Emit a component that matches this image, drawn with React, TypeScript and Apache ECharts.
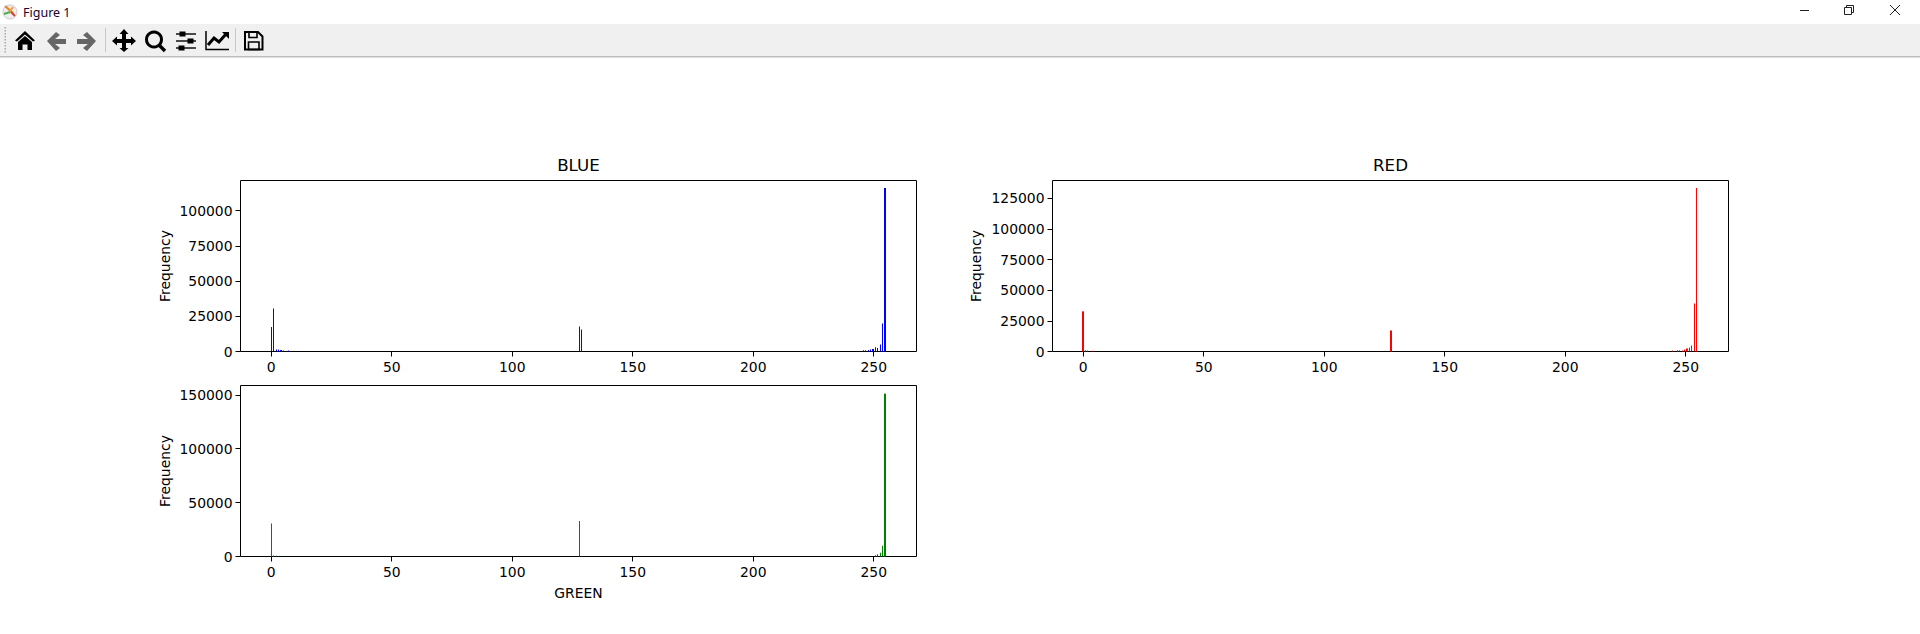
import React, { useEffect, useRef } from "react";
import * as echarts from "echarts";

// Bar positions (bin) and heights; narrow and wide bars are listed apart
const blueBins = [0.11, 0.94, 2.19, 3.02, 4.27, 5.09, 7.17, 127.92, 128.75, 245.77, 246.6, 247.84, 248.67, 250.74, 251.57, 252.81, 253.64];
const blueCounts = [17300, 30500, 1500, 1500, 800, 700, 700, 17800, 15600, 800, 800, 1000, 1500, 3000, 2500, 5000, 19900];
const blueWideBins = [3.85, 249.5, 254.47];
const blueWideCounts = [1000, 1800, 116000];

const redBins = [0.94, 1.77, 3.85, 244.5, 246.59, 247.42, 248.66, 249.49, 251.57, 252.4, 253.64, 254.47];
const redCounts = [1000, 800, 700, 800, 1000, 1000, 900, 1700, 3300, 4900, 39300, 133500];
const redWideBins = [-0.3, 127.5, 250.3];
const redWideCounts = [32800, 17200, 2500];

const greenBins = [0.11, 0.94, 2.19, 127.92, 250.74, 251.57, 252.81, 253.64];
const greenCounts = [30600, 1000, 700, 33000, 1200, 2000, 3500, 10000];
const greenWideBins = [254.47];
const greenWideCounts = [151000];

const xTicks = [0, 50, 100, 150, 200, 250];
const blueTicks = [0, 25000, 50000, 75000, 100000];
const redTicks = [0, 25000, 50000, 75000, 100000, 125000];
const greenTicks = [0, 50000, 100000, 150000];
const xLimits = [-12.75, 267.75];
const yMaxes = [121300, 139700, 158600];
const titles = ["BLUE", "RED"];
const yName = "Frequency";
const xName = "GREEN";
const windowTitle = "Figure 1";

const FONT = "DejaVu Sans";

function App() {
  const ref = useRef<HTMLDivElement>(null);
  useEffect(() => {
    const chart = echarts.init(ref.current!, undefined, { renderer: "svg" });
    const grids = [
      { left: 240.5, top: 180.5, width: 676, height: 171 },
      { left: 1052.5, top: 180.5, width: 676, height: 171 },
      { left: 240.5, top: 385.5, width: 676, height: 171 },
    ];
    const yTicks = [blueTicks, redTicks, greenTicks];
    const bins = [blueBins, redBins, greenBins];
    const counts = [blueCounts, redCounts, greenCounts];
    const wideBins = [blueWideBins, redWideBins, greenWideBins];
    const wideCounts = [blueWideCounts, redWideCounts, greenWideCounts];
    const colors = ["#0000ff", "#ff0000", "#008000"];
    const tickStyle = { show: true, length: 5, lineStyle: { color: "#000", width: 1 } };
    const labelStyle = { color: "#000", fontFamily: FONT, fontSize: 13.9 };

    const dark = "#000";
    const grey = "#666";
    const graphic: any[] = [
      { type: "rect", shape: { x: 0, y: 24, width: 1920, height: 32 }, style: { fill: "#f0f0f0" } },
      { type: "rect", shape: { x: 0, y: 56, width: 1920, height: 1.5 }, style: { fill: "#bdbdbd" } },
      // window icon
      { type: "circle", shape: { cx: 10, cy: 12, r: 7 }, style: { fill: "#eee", stroke: "#ccc", lineWidth: 1 } },
      { type: "line", shape: { x1: 5, y1: 6, x2: 13, y2: 13 }, style: { stroke: "#f08020", lineWidth: 2.2 } },
      { type: "line", shape: { x1: 13, y1: 7, x2: 9, y2: 13 }, style: { stroke: "#e8a040", lineWidth: 2 } },
      { type: "line", shape: { x1: 4, y1: 14, x2: 10, y2: 12 }, style: { stroke: "#50b050", lineWidth: 2 } },
      { type: "line", shape: { x1: 11, y1: 12, x2: 15, y2: 16 }, style: { stroke: "#d04030", lineWidth: 2 } },
      { type: "text", x: 23, y: 12, style: { text: windowTitle, fill: "#1c0030", fontFamily: "Noto Sans", fontSize: 12.5, verticalAlign: "middle" } },
      // window buttons
      { type: "line", shape: { x1: 1800, y1: 10.5, x2: 1809, y2: 10.5 }, style: { stroke: "#222", lineWidth: 1 } },
      { type: "rect", shape: { x: 1844.5, y: 7.5, width: 7, height: 7 }, style: { fill: "none", stroke: "#222", lineWidth: 1 } },
      { type: "polyline", shape: { points: [[1846.5, 7.5], [1846.5, 5.5], [1853.5, 5.5], [1853.5, 12.5], [1851.5, 12.5]] }, style: { fill: "none", stroke: "#222", lineWidth: 1 } },
      { type: "line", shape: { x1: 1890, y1: 5, x2: 1900, y2: 15 }, style: { stroke: "#222", lineWidth: 1 } },
      { type: "line", shape: { x1: 1900, y1: 5, x2: 1890, y2: 15 }, style: { stroke: "#222", lineWidth: 1 } },
      // toolbar grip and separators
      ...[27, 30, 33, 36, 39, 42, 45, 48, 51].map((y) => ({ type: "rect", shape: { x: 4.5, y, width: 1.5, height: 1.5 }, style: { fill: "#aaa" } })),
      { type: "rect", shape: { x: 105, y: 28, width: 1, height: 24 }, style: { fill: "#c8c8c8" } },
      { type: "rect", shape: { x: 235, y: 28, width: 1, height: 24 }, style: { fill: "#c8c8c8" } },
      // home
      { type: "polygon", shape: { points: [[25, 31], [35, 40.5], [33, 41.5], [25, 34.5], [17, 41.5], [15, 40.5]] }, style: { fill: dark } },
      { type: "polygon", shape: { points: [[25, 36], [32, 42], [32, 50], [27.5, 50], [27.5, 44.5], [22.5, 44.5], [22.5, 50], [18, 50], [18, 42]] }, style: { fill: dark } },
      // back
      { type: "polygon", shape: { points: [[47, 41], [56, 32], [60, 35], [55, 39], [66, 39], [66, 44], [55, 44], [60, 48], [56, 51]] }, style: { fill: grey } },
      // forward
      { type: "polygon", shape: { points: [[96, 41], [87, 32], [83, 35], [88, 39], [77, 39], [77, 44], [88, 44], [83, 48], [87, 51]] }, style: { fill: grey } },
      // move
      { type: "polygon", shape: { points: [[124, 29], [128.5, 34], [126, 34], [126, 39], [131, 39], [131, 36.5], [136, 41], [131, 45.5], [131, 43], [126, 43], [126, 48], [128.5, 48], [124, 52], [119.5, 48], [122, 48], [122, 43], [117, 43], [117, 45.5], [112, 41], [117, 36.5], [117, 39], [122, 39], [122, 34], [119.5, 34]] }, style: { fill: dark } },
      // zoom
      { type: "circle", shape: { cx: 154, cy: 39.5, r: 7.5 }, style: { fill: "none", stroke: dark, lineWidth: 3 } },
      { type: "line", shape: { x1: 159, y1: 45, x2: 165, y2: 51 }, style: { stroke: dark, lineWidth: 3.4 } },
      // sliders
      ...[[34, 182], [41, 190], [48, 181]].flatMap(([y, x]) => [
        { type: "line", shape: { x1: 176, y1: y, x2: 196, y2: y }, style: { stroke: dark, lineWidth: 1.4 } },
        { type: "rect", shape: { x: x - 2.5, y: y - 2.5, width: 6, height: 5 }, style: { fill: dark } },
      ]),
      // lines editor
      { type: "polyline", shape: { points: [[206, 31], [206, 49.5], [229, 49.5]] }, style: { fill: "none", stroke: dark, lineWidth: 1.5 } },
      { type: "polyline", shape: { points: [[208, 45], [214, 38], [219, 42], [226, 34]] }, style: { fill: "none", stroke: dark, lineWidth: 3 } },
      { type: "polygon", shape: { points: [[222, 32], [229, 32], [229, 39]] }, style: { fill: dark } },
      // save
      { type: "polygon", shape: { points: [[245, 32], [258, 32], [262.5, 36.5], [262.5, 49.5], [245, 49.5]] }, style: { fill: "none", stroke: dark, lineWidth: 2 } },
      { type: "rect", shape: { x: 249, y: 32, width: 8, height: 5.5 }, style: { fill: "none", stroke: dark, lineWidth: 1.6 } },
      { type: "rect", shape: { x: 248.5, y: 42, width: 10.5, height: 7.5 }, style: { fill: "none", stroke: dark, lineWidth: 1.6 } },
    ];

    chart.setOption({
      animation: false,
      backgroundColor: "#fff",
      textStyle: { fontFamily: FONT },
      title: titles.map((t, i) => ({
        text: t,
        left: grids[i].left + grids[i].width / 2 - 5,
        top: 151,
        textAlign: "center",
        textStyle: { color: "#000", fontFamily: FONT, fontSize: 16.7, fontWeight: "normal" },
      })),
      grid: grids.map((g) => ({ ...g, show: true, borderColor: "#000", borderWidth: 1, containLabel: false })),
      xAxis: grids.map((_, i) => ({
        type: "value",
        gridIndex: i,
        min: xLimits[0],
        max: xLimits[1],
        splitLine: { show: false },
        axisLine: { show: false, onZero: false },
        axisTick: { ...tickStyle, customValues: xTicks },
        axisLabel: { ...labelStyle, margin: 8, customValues: xTicks, formatter: (v: number) => String(v) },
        name: i === 2 ? xName : "",
        nameLocation: "middle",
        nameGap: 29,
        nameTextStyle: { color: "#000", fontFamily: FONT, fontSize: 13.9 },
      })),
      yAxis: grids.map((_, i) => ({
        type: "value",
        gridIndex: i,
        min: 0,
        max: yMaxes[i],
        splitLine: { show: false },
        axisLine: { show: false, onZero: false },
        axisTick: { ...tickStyle, customValues: yTicks[i] },
        axisLabel: { ...labelStyle, margin: 8, customValues: yTicks[i], formatter: (v: number) => String(v) },
        name: yName,
        nameLocation: "middle",
        nameGap: i === 1 ? 70 : 69,
        nameRotate: 90,
        nameTextStyle: { color: "#000", fontFamily: FONT, fontSize: 13.9 },
      })),
      series: grids.flatMap((_, i) => [
        {
          type: "bar",
          xAxisIndex: i,
          yAxisIndex: i,
          barWidth: 2,
          barMinWidth: 2,
          barMaxWidth: 2,
          barGap: "-100%",
          itemStyle: { color: colors[i] },
          silent: true,
          data: wideBins[i].map((x, k) => [x, wideCounts[i][k]]),
        },
        {
          type: "bar",
          xAxisIndex: i,
          yAxisIndex: i,
          barWidth: 1,
          barMinWidth: 1,
          barMaxWidth: 1,
          barGap: "-100%",
          itemStyle: { color: colors[i] },
          silent: true,
          data: bins[i].map((x, k) => [x, counts[i][k]]),
        },
      ]),
      graphic,
    });
    return () => chart.dispose();
  }, []);
  return <div ref={ref} style={{ position: "absolute", left: 0, top: 0, width: 1920, height: 634 }} />;
}

export default App;
